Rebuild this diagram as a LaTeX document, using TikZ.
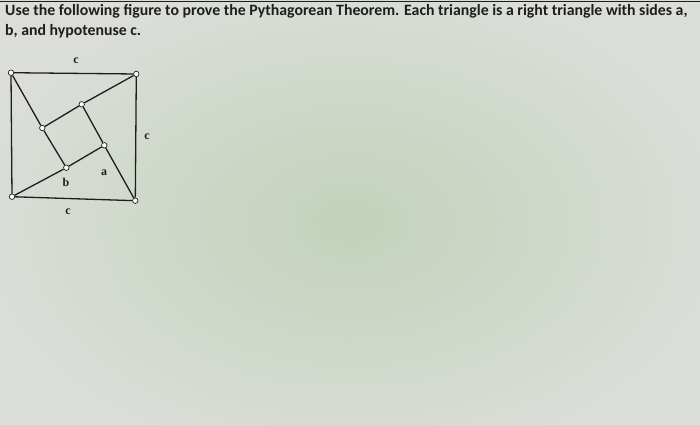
\documentclass[tikz,border=0pt]{standalone}
\usepackage{fontspec}
\setmainfont{Carlito}
\newfontfamily\lblfont{Liberation Serif}
\definecolor{bgc}{HTML}{DADDD8}
\definecolor{glow}{HTML}{C3D2BA}
\definecolor{ink}{HTML}{1E1E1E}
\tikzset{
  pt/.style={circle,draw=ink,fill=white,line width=0.7pt,inner sep=0pt,minimum size=5.5pt},
  edge/.style={draw=ink,line width=1.3pt},
  lbl/.style={font=\lblfont\bfseries\fontsize{12}{12}\selectfont,text=ink,inner sep=0pt},
  title/.style={font=\bfseries\fontsize{15.8}{20}\selectfont,text=ink,anchor=north west,inner sep=0pt,align=left}
}
\begin{document}
\begin{tikzpicture}[x=1pt,y=-1pt]
\useasboundingbox (0,0) rectangle (700,424);
\fill[bgc] (0,0) rectangle (700,424);
\shade[inner color=glow,outer color=bgc] (-20,-20) rectangle (720,464);
\draw[ink,line width=1.2pt] (0,1.5) -- (700,1.5);
\node[title] (t) at (5,4) {Use the following figure to prove the Pythagorean Theorem. Each triangle is a right triangle with sides a,\\b, and hypotenuse c.};
% outer square corners
\node[pt] (TL) at (11,72.7) {};
\node[pt] (TR) at (136.3,74) {};
\node[pt] (BR) at (135.3,200.7) {};
\node[pt] (BL) at (12,196.7) {};
% inner square
\node[pt] (IT) at (81.7,104.3) {};
\node[pt] (IL) at (42.3,128) {};
\node[pt] (IB) at (66.3,167.7) {};
\node[pt] (IR) at (104.3,145.3) {};
\draw[edge] (TL) -- (TR) -- (BR) -- (BL) -- (TL);
\draw[edge] (TL) -- (IL) -- (IB);
\draw[edge] (BL) -- (IB) -- (IR);
\draw[edge] (BR) -- (IR) -- (IT);
\draw[edge] (TR) -- (IT) -- (IL);
\node[lbl] (lc1) at (76,61) {c};
\node[lbl] (lc2) at (147,137) {c};
\node[lbl] (lc3) at (68,212) {c};
\node[lbl] (lb) at (66,182) {b};
\node[lbl] (la) at (104,173) {a};
\end{tikzpicture}
\end{document}
